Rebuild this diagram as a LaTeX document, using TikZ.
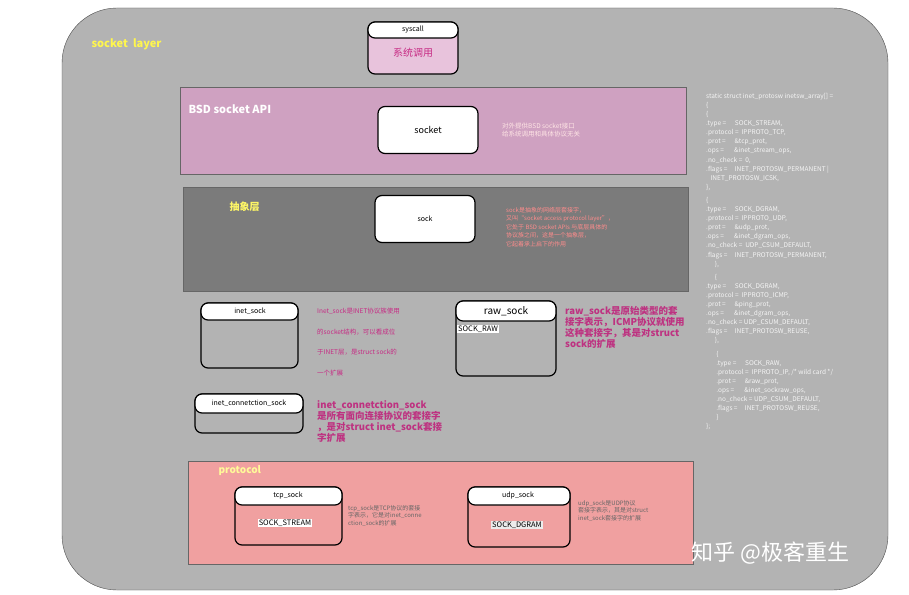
\documentclass[tikz,border=0pt]{standalone}
\usepackage{fontspec}
\setmainfont{Noto Sans CJK SC}
\definecolor{bgg}{HTML}{B3B3B3}
\definecolor{bsdc}{HTML}{CFA1C1}
\definecolor{absc}{HTML}{7B7B7B}
\definecolor{protc}{HTML}{F0A0A0}
\definecolor{sysc}{HTML}{E8C3DC}
\begin{document}
\begin{tikzpicture}[x=1pt,y=-1pt,
  cbox/.style={draw=black,line width=1.2pt,rounded corners=7pt},
  hdr/.style={fill=white,draw=black,line width=1.2pt,rounded corners=7pt},
  small/.style={font=\fontsize{6.5}{8}\selectfont,align=left,anchor=north west,inner sep=0},
  mag/.style={text=magenta!75!black,font=\bfseries\fontsize{9.5}{11}\selectfont,align=left,anchor=north west,inner sep=0}]
\useasboundingbox (0,0) rectangle (909,594);
\fill[white] (0,0) rectangle (909,594);
\filldraw[fill=bgg,draw=black!70,rounded corners=55pt] (62,8) rectangle (888,590);
\node[anchor=west,text=yellow!70!white,font=\bfseries\fontsize{11}{13}\selectfont] (title) at (88,44) {socket\ \ layer};
% syscall
\filldraw[cbox,fill=sysc] (368,22) rectangle (458,74);
\draw[hdr] (368,38) -- (368,22) -- (458,22) -- (458,38) -- cycle;
\node (sc) at (413,30) {\fontsize{7}{8}\selectfont syscall};
\node[text=magenta!80!black] (sct) at (413,53) {\fontsize{10}{12}\selectfont 系统调用};
% BSD
\filldraw[fill=bsdc,draw=black!60] (180,87) rectangle (686,174);
\node[anchor=west,text=white,font=\bfseries\fontsize{11}{13}\selectfont] (bsd) at (185,109) {BSD socket API};
\node[cbox,fill=white,minimum width=100pt,minimum height=47pt] (socket) at (428,130) {\fontsize{9}{10}\selectfont socket};
\node[small,text=pink!40!white] (bsdt) at (502,123) {对外提供BSD socket接口\\给系统调用和具体协议无关};
% abstraction
\filldraw[fill=absc,draw=black!60] (183,187) rectangle (688,291);
\node[anchor=west,text=yellow!60!white,font=\bfseries\fontsize{10}{12}\selectfont] (abs) at (226,207) {抽象层};
\node[cbox,fill=white,minimum width=100pt,minimum height=47pt] (sock) at (425,219) {\fontsize{7}{8}\selectfont sock};
\node[small,text=red!45!white,font=\fontsize{6}{8.5}\selectfont] (sockt) at (506,207) {sock是抽象的网络层套接字，\\又叫“socket access protocol layer”，\\它处于 BSD socket APIs 与底层具体的\\协议族之间，这是一个抽象层，\\它起着承上启下的作用};
% inet_sock
\filldraw[cbox,fill=bgg] (201,303) rectangle (298,368);
\draw[hdr] (201,320) -- (201,303) -- (298,303) -- (298,320) -- cycle;
\node (is) at (250,311) {\fontsize{7}{8}\selectfont inet\_sock};
\node[anchor=north west,inner sep=0,text=magenta!80!black,font=\fontsize{6.5}{20.5}\selectfont,align=left] (ist) at (317,308) {Inet\_sock是INET协议族使用\\的socket结构，可以看成位\\于INET层，是struct sock的\\一个扩展};
% raw_sock
\filldraw[cbox,fill=bgg] (456,301) rectangle (556,376);
\draw[hdr] (456,321) -- (456,301) -- (556,301) -- (556,321) -- cycle;
\node (rs) at (506,311) {\fontsize{10}{12}\selectfont raw\_sock};
\node[fill=white,inner sep=1pt,anchor=west] (rsb) at (457,329) {\fontsize{7.5}{9}\selectfont SOCK\_RAW};
\node[mag] (rst) at (565,306) {raw\_sock是原始类型的套\\接字表示，ICMP协议就使用\\这种套接字，其是对struct\\sock的扩展};
% inet_connection_sock
\filldraw[cbox,fill=bgg] (195,394) rectangle (303,433);
\draw[hdr] (195,413) -- (195,394) -- (303,394) -- (303,413) -- cycle;
\node (ics) at (249,403) {\fontsize{7}{8}\selectfont inet\_connetction\_sock};
\node[mag] (icst) at (317,400) {inet\_connetction\_sock\\是所有面向连接协议的套接字\\，是对struct inet\_sock套接\\字扩展};
% protocol
\filldraw[fill=protc,draw=black!60] (188,461) rectangle (693,564);
\node[anchor=west,text=yellow!40!white,font=\bfseries\fontsize{10}{12}\selectfont] (proto) at (215,471) {protocol};
\filldraw[cbox,fill=protc] (235,487) rectangle (342,545);
\draw[hdr] (235,505) -- (235,487) -- (342,487) -- (342,505) -- cycle;
\node (tcp) at (288,496) {\fontsize{7}{8}\selectfont tcp\_sock};
\node[fill=white,inner sep=1pt] (tcpb) at (285,523) {\fontsize{7.5}{9}\selectfont SOCK\_STREAM};
\node[small,text=gray!80!black,font=\fontsize{6}{7.5}\selectfont] (tcpt) at (348,505) {tcp\_sock是TCP协议的套接\\字表示，它是对inet\_conne\\ction\_sock的扩展};
\filldraw[cbox,fill=protc] (468,487) rectangle (570,547);
\draw[hdr] (468,505) -- (468,487) -- (570,487) -- (570,505) -- cycle;
\node (udp) at (518,496) {\fontsize{7}{8}\selectfont udp\_sock};
\node[fill=white!85!gray,inner sep=1pt] (udpb) at (517,525) {\fontsize{7.5}{9}\selectfont SOCK\_DGRAM};
\node[small,text=gray!80!black,font=\fontsize{6}{7.5}\selectfont] (udpt) at (578,500) {udp\_sock是UDP协议\\套接字表示，其是对struct\\inet\_sock套接字的扩展};
% code
\node[small,text=white!92!gray,font=\fontsize{6.5}{9.1}\selectfont] (code) at (706,93) {static struct inet\_protosw inetsw\_array[] =\\\{\\\{\\.type =\ \ \ \ \ \ SOCK\_STREAM,\\.protocol =\ \ IPPROTO\_TCP,\\.prot =\ \ \ \ \ \ \&tcp\_prot,\\.ops =\ \ \ \ \ \ \ \&inet\_stream\_ops,\\.no\_check =\ \ 0,\\.flags =\ \ \ \ \ INET\_PROTOSW\_PERMANENT |\\\ \ \ INET\_PROTOSW\_ICSK,\\\},\\[4pt]\{\\.type =\ \ \ \ \ \ SOCK\_DGRAM,\\.protocol =\ \ IPPROTO\_UDP,\\.prot =\ \ \ \ \ \ \&udp\_prot,\\.ops =\ \ \ \ \ \ \ \&inet\_dgram\_ops,\\.no\_check =\ \ UDP\_CSUM\_DEFAULT,\\.flags =\ \ \ \ \ INET\_PROTOSW\_PERMANENT,\\\ \ \ \ \ \ \},\\[4pt]\ \ \ \ \ \ \{\\.type =\ \ \ \ \ \ SOCK\_DGRAM,\\.protocol =\ \ IPPROTO\_ICMP,\\.prot =\ \ \ \ \ \ \&ping\_prot,\\.ops =\ \ \ \ \ \ \ \&inet\_dgram\_ops,\\.no\_check =\ UDP\_CSUM\_DEFAULT,\\.flags =\ \ \ \ \ INET\_PROTOSW\_REUSE,\\\ \ \ \ \ \ \},\\[4pt]\ \ \ \ \ \ \ \{\\\ \ \ \ \ \ \ .type =\ \ \ \ \ \ SOCK\_RAW,\\\ \ \ \ \ \ \ .protocol =\ \ IPPROTO\_IP, /* wild card */\\\ \ \ \ \ \ \ .prot =\ \ \ \ \ \ \&raw\_prot,\\\ \ \ \ \ \ \ .ops =\ \ \ \ \ \ \ \&inet\_sockraw\_ops,\\\ \ \ \ \ \ \ .no\_check =\ UDP\_CSUM\_DEFAULT,\\\ \ \ \ \ \ \ .flags =\ \ \ \ \ INET\_PROTOSW\_REUSE,\\\ \ \ \ \ \ \ \}\\\};};
\node[text=white,font=\fontsize{22}{24}\selectfont,anchor=west] (wm) at (688,553) {知乎 @极客重生};
\end{tikzpicture}
\end{document}
